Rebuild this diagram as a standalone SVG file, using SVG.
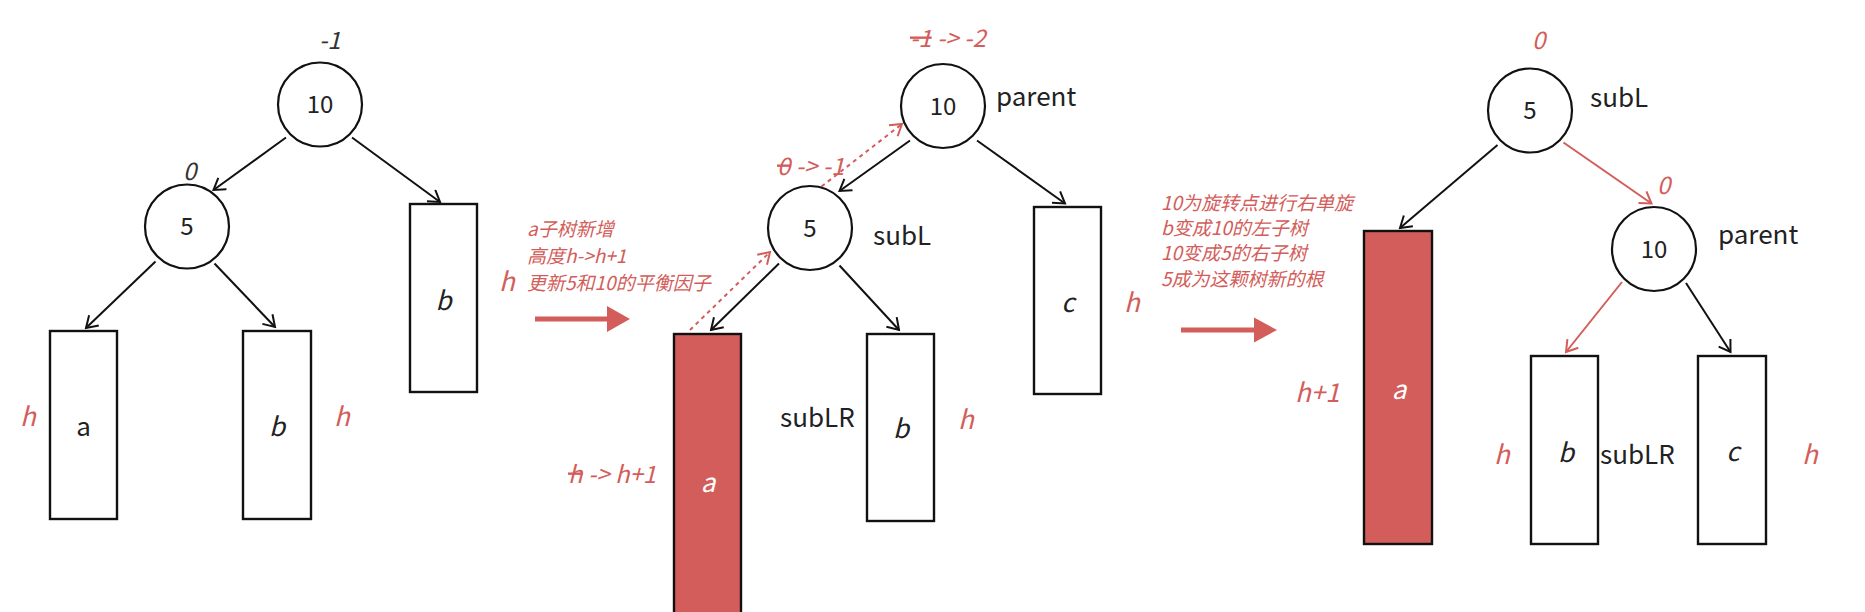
<svg xmlns="http://www.w3.org/2000/svg" width="1865" height="612" viewBox="0 0 1865 612">
<defs>
<style>
text{font-family:'Noto Sans CJK SC','Noto Sans',sans-serif;}
.node{fill:#fff;stroke:#111;stroke-width:2.2;}
.box{fill:#fff;stroke:#111;stroke-width:2.4;}
.rbox{fill:#d35d5a;stroke:#111;stroke-width:2.4;}
.num{font-size:24px;fill:#222;text-anchor:middle;}
.lbl{font-size:26px;fill:#222;}
.bf{font-size:26px;fill:#222;font-style:italic;text-anchor:middle;}
.wf{font-size:26px;fill:#fff;font-style:italic;text-anchor:middle;}
.h{font-size:26px;fill:#d35d5a;font-style:italic;}
.bal{font-size:24px;fill:#333;font-style:italic;}
.rbal{font-size:24px;fill:#d35d5a;font-style:italic;}
.note{font-size:19px;fill:#d35d5a;font-style:italic;}
.edge{stroke:#111;stroke-width:2;fill:none;marker-end:url(#ah);}
.redge{stroke:#d35d5a;stroke-width:2;fill:none;marker-end:url(#ahr);}
.dash{stroke:#d35d5a;stroke-width:2;fill:none;stroke-dasharray:4 4;marker-end:url(#ahr);}
.big{stroke:#d35d5a;stroke-width:5;fill:none;}
</style>
<marker id="ah" markerWidth="14" markerHeight="16" refX="12" refY="8" orient="auto" markerUnits="userSpaceOnUse">
<path d="M1,1 L12,8 L1,15" fill="none" stroke="#111" stroke-width="2"/>
</marker>
<marker id="ahr" markerWidth="14" markerHeight="16" refX="12" refY="8" orient="auto" markerUnits="userSpaceOnUse">
<path d="M1,1 L12,8 L1,15" fill="none" stroke="#d35d5a" stroke-width="2"/>
</marker>
</defs>
<rect width="1865" height="612" fill="#fff"/>

<g id="connectors">
<line class="edge" x1="286" y1="137.5" x2="213.5" y2="190"/>
<line class="edge" x1="352" y1="137.5" x2="440" y2="202"/>
<line class="edge" x1="155.5" y1="261.5" x2="86" y2="328"/>
<line class="edge" x1="214.5" y1="263.5" x2="275" y2="327"/>
<line class="edge" x1="910" y1="140.5" x2="839.5" y2="191"/>
<line class="edge" x1="977" y1="140.5" x2="1065" y2="203.5"/>
<line class="edge" x1="779" y1="263.5" x2="711" y2="330"/>
<line class="edge" x1="839.5" y1="265.5" x2="899" y2="330"/>
<line class="dash" x1="690" y1="330" x2="770" y2="252"/>
<line class="dash" x1="821.5" y1="186.5" x2="902" y2="124"/>
<line class="edge" x1="1497.5" y1="145" x2="1400" y2="228"/>
<line class="redge" x1="1563.5" y1="142.5" x2="1651.5" y2="203.5"/>
<line class="redge" x1="1622" y1="282" x2="1566" y2="352"/>
<line class="edge" x1="1686" y1="283" x2="1730.5" y2="352"/>
</g>

<g id="p1-n10"><circle class="node" cx="320" cy="104.5" r="42"/><text class="num" x="320" y="113">10</text><text class="bal" x="319" y="48.5">-1</text></g>
<g id="p1-n5"><circle class="node" cx="187" cy="226.5" r="42"/><text class="num" x="187" y="235">5</text><text class="bal" x="183" y="180">0</text></g>
<g id="p1-a"><rect class="box" x="50" y="331" width="67" height="188"/><text class="lbl" x="83.5" y="436" text-anchor="middle">a</text><text class="h" x="20" y="426">h</text></g>
<g id="p1-b"><rect class="box" x="243" y="331" width="68" height="188"/><text class="bf" x="277" y="436">b</text><text class="h" x="334" y="426">h</text></g>
<g id="p1-b2"><rect class="box" x="410" y="204" width="67" height="188"/><text class="bf" x="443.5" y="310">b</text><text class="h" x="499" y="291">h</text></g>

<g id="step1">
<text class="note" x="527" y="236">a子树新增</text>
<text class="note" x="527" y="263">高度h-&gt;h+1</text>
<text class="note" x="527" y="290">更新5和10的平衡因子</text>
<line class="big" x1="535" y1="319" x2="610" y2="319"/>
<polygon points="607,306 630,319 607,332" fill="#d35d5a"/>
</g>

<g id="p2-n10"><circle class="node" cx="943" cy="106" r="42"/><text class="num" x="943" y="114.5">10</text><text class="lbl" x="996" y="106">parent</text><text class="rbal" x="910" y="47"><tspan text-decoration="line-through">-1</tspan> -&gt; -2</text></g>
<g id="p2-n5"><circle class="node" cx="810" cy="228" r="42"/><text class="num" x="810" y="236.5">5</text><text class="lbl" x="873" y="245">subL</text><text class="rbal" x="777" y="175"><tspan text-decoration="line-through">0</tspan> -&gt; -1</text></g>
<g id="p2-a"><rect class="rbox" x="674" y="334" width="67" height="290"/><text class="wf" x="708" y="492">a</text><text class="rbal" x="568" y="483"><tspan text-decoration="line-through">h</tspan> -&gt; h+1</text></g>
<g id="p2-b"><rect class="box" x="867" y="334" width="67" height="187"/><text class="bf" x="901" y="438">b</text><text class="lbl" x="780" y="427">subLR</text><text class="h" x="958" y="429">h</text></g>
<g id="p2-c"><rect class="box" x="1034" y="207" width="67" height="187"/><text class="bf" x="1068" y="312">c</text><text class="h" x="1124" y="312">h</text></g>

<g id="step2">
<text class="note" x="1161" y="210">10为旋转点进行右单旋</text>
<text class="note" x="1161" y="235">b变成10的左子树</text>
<text class="note" x="1161" y="260">10变成5的右子树</text>
<text class="note" x="1161" y="286">5成为这颗树新的根</text>
<line class="big" x1="1181" y1="330" x2="1257" y2="330"/>
<polygon points="1254,317.5 1277,330 1254,342.5" fill="#d35d5a"/>
</g>

<g id="p3-n5"><circle class="node" cx="1530" cy="110.5" r="42"/><text class="num" x="1530" y="119">5</text><text class="lbl" x="1590" y="107">subL</text><text class="rbal" x="1532" y="48.5">0</text></g>
<g id="p3-n10"><circle class="node" cx="1654" cy="249" r="42"/><text class="num" x="1654" y="257.5">10</text><text class="lbl" x="1718" y="244">parent</text><text class="rbal" x="1657" y="194">0</text></g>
<g id="p3-a"><rect class="rbox" x="1364" y="231" width="68" height="313"/><text class="wf" x="1399" y="399">a</text><text class="h" x="1295" y="402">h+1</text></g>
<g id="p3-b"><rect class="box" x="1531" y="356" width="67" height="188"/><text class="bf" x="1566" y="462">b</text><text class="h" x="1494" y="464">h</text><text class="lbl" x="1600" y="464">subLR</text></g>
<g id="p3-c"><rect class="box" x="1698" y="356" width="68" height="188"/><text class="bf" x="1733" y="461">c</text><text class="h" x="1802" y="464">h</text></g>
</svg>
